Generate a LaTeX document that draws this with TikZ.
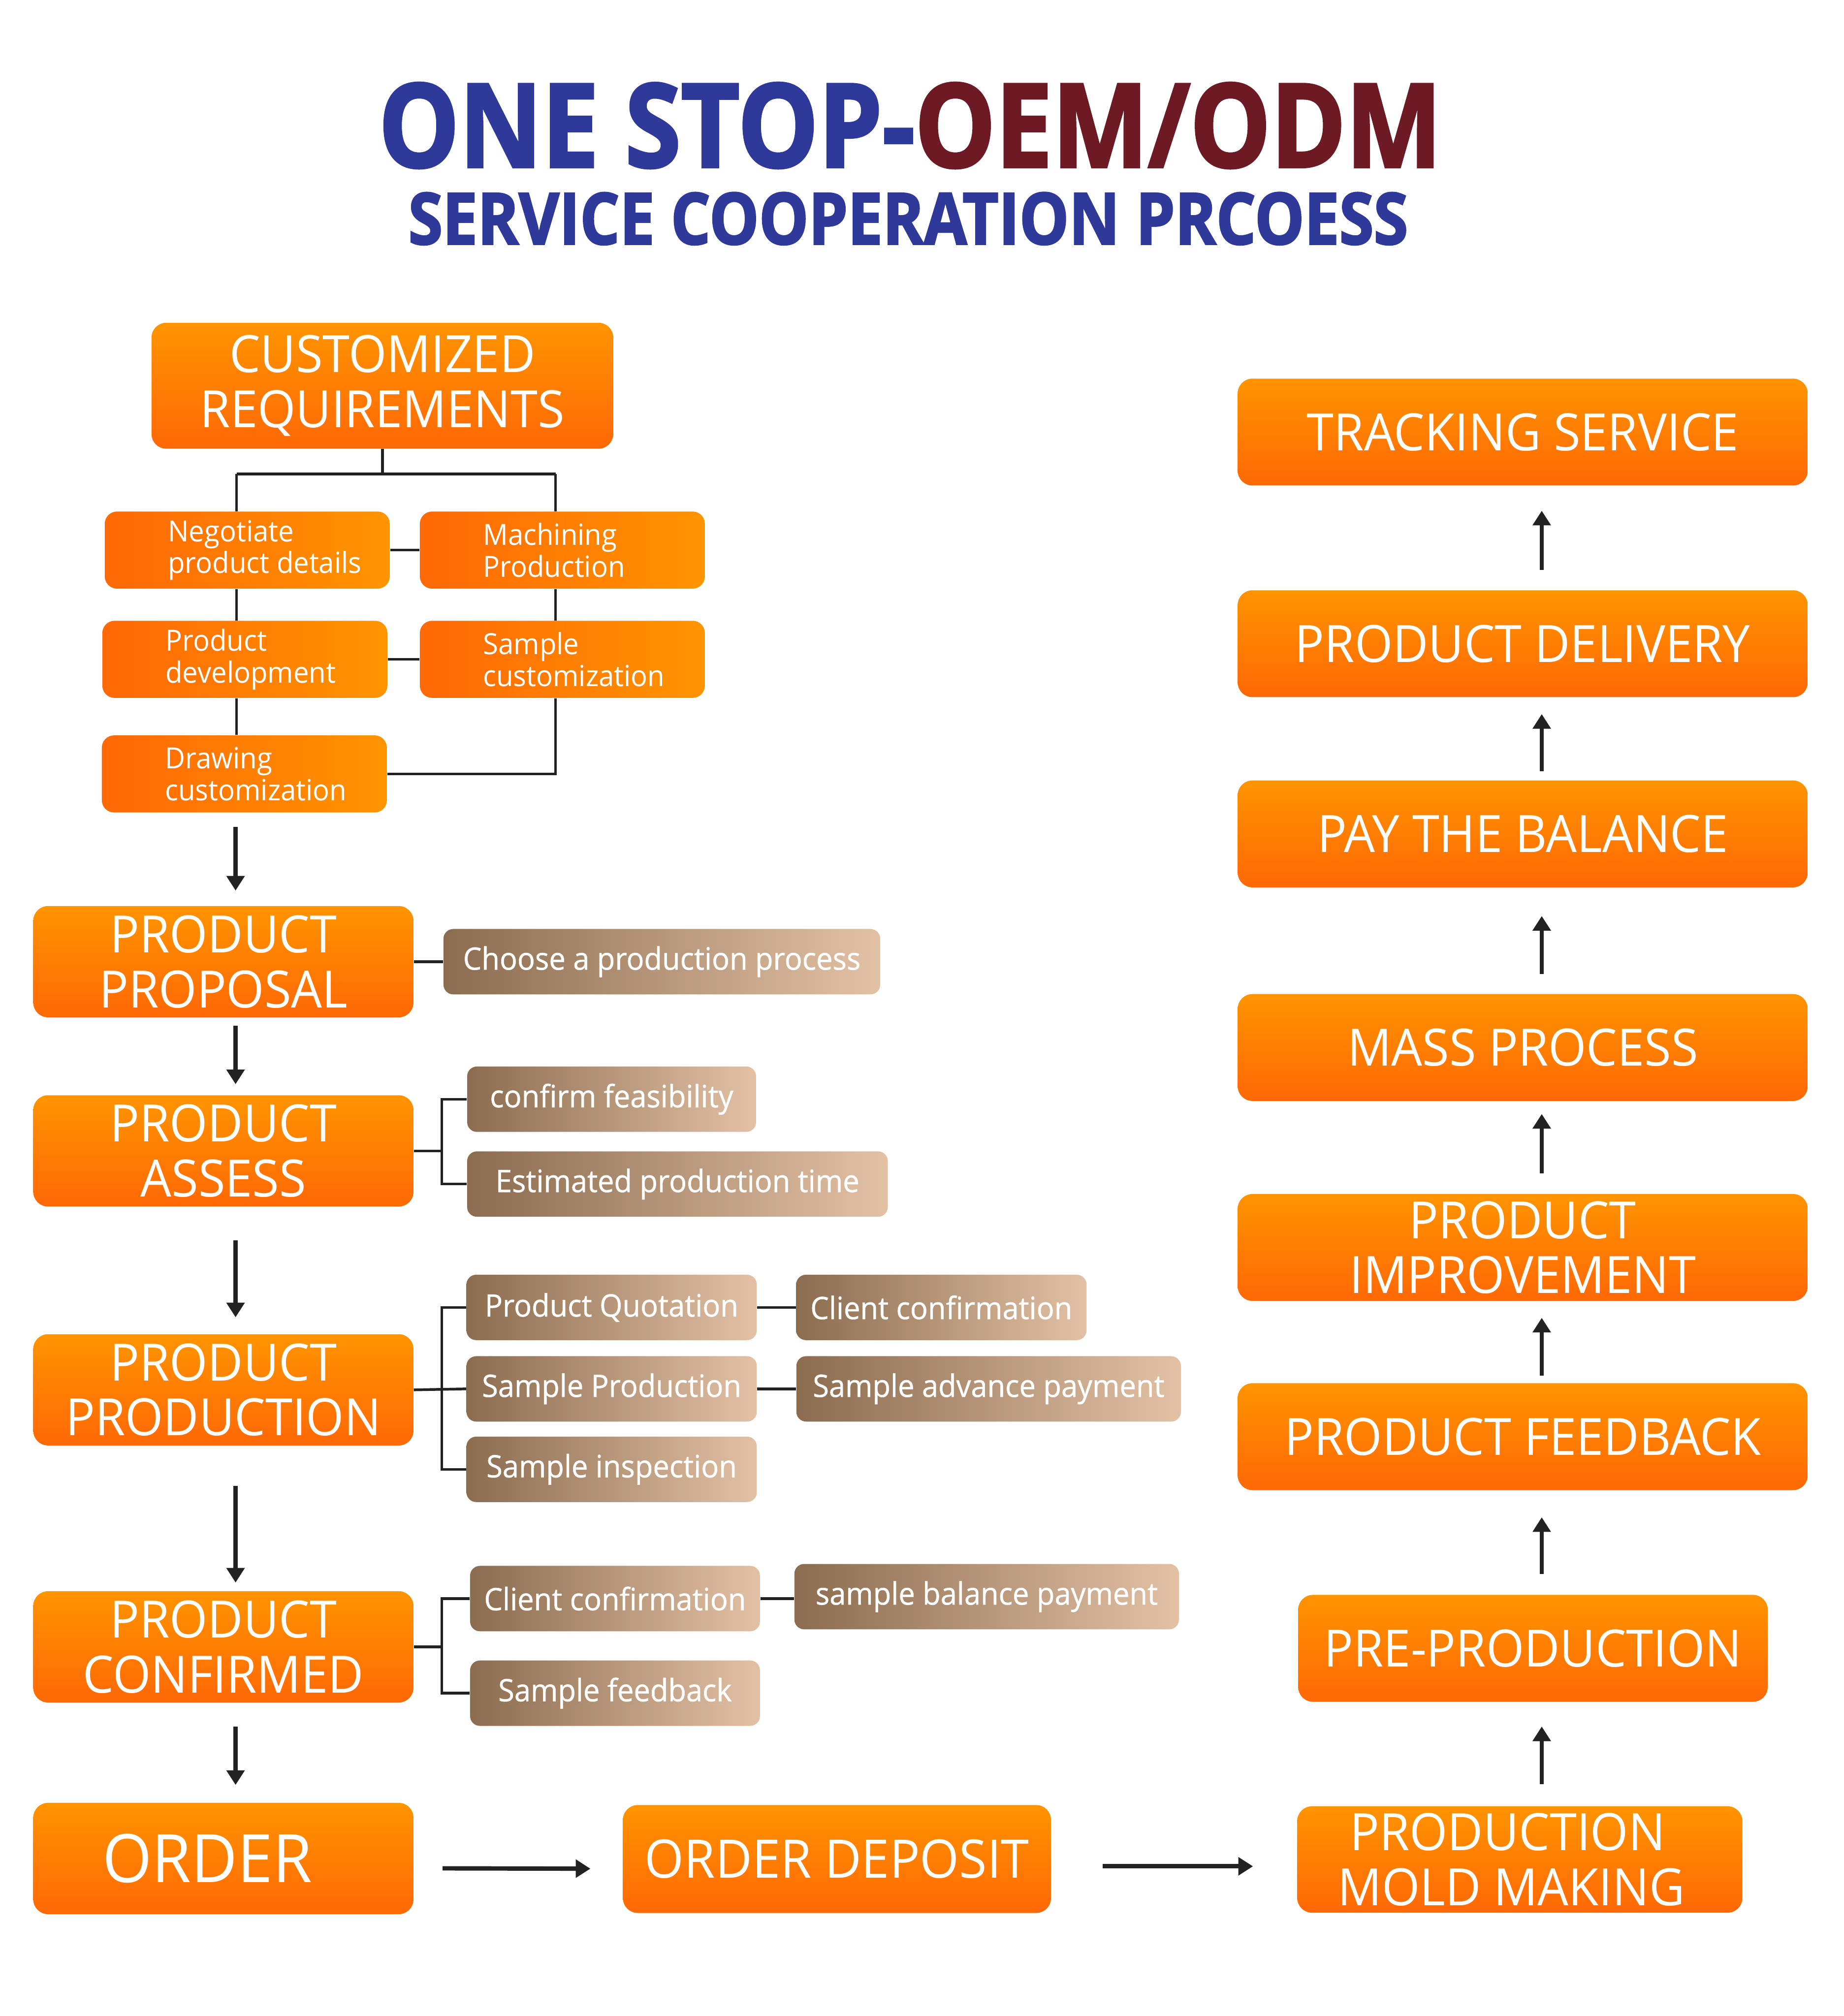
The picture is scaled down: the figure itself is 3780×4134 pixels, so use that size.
\documentclass[tikz,border=0pt]{standalone}
\usepackage{fontspec}
\setmainfont{Open Sans}[FakeStretch=0.95]
\newfontfamily\titlefont{Open Sans}[FakeStretch=0.87, BoldFeatures={FakeBold=2}]
\newfontfamily\notefont{Open Sans}[FakeStretch=0.95, FakeBold=0.8]
\usetikzlibrary{arrows.meta, positioning, calc}
\definecolor{cBlue}{RGB}{47,57,153}
\definecolor{cWine}{RGB}{110,26,37}
\definecolor{cOrTop}{RGB}{255,148,0}
\definecolor{cOrBot}{RGB}{255,104,6}
\definecolor{cBrL}{RGB}{140,108,78}
\definecolor{cBrR}{RGB}{226,193,165}
\definecolor{cLine}{RGB}{34,34,34}
\newcommand\bigtxt{\fontsize{30pt}{32pt}\selectfont}
\newcommand\smalltxt{\fontsize{17pt}{18.5pt}\selectfont}
\newcommand\subtxt{\notefont\fontsize{18pt}{20pt}\selectfont}
\tikzset{
	stage/.style ={rectangle, rounded corners=0.3cm, top color=cOrTop, bottom color=cOrBot, text=white, align=center, inner sep=0pt, font=\bigtxt},
	leftstage/.style={stage, minimum width=7.79cm, minimum height=2.28cm},
	rightstage/.style={stage, minimum width=11.68cm, minimum height=2.19cm},
	detail/.style={rectangle, rounded corners=0.25cm, left color=cOrBot, right color=cOrTop, inner sep=0pt, minimum width=5.84cm, minimum height=1.58cm},
	dtext/.style ={label={[anchor=west, xshift=1.18cm, align=left, text=white, font=\smalltxt]west:#1}},
	note/.style  ={rectangle, rounded corners=0.2cm, left color=cBrL, right color=cBrR, text=white, inner sep=0pt, minimum height=1.34cm, font=\subtxt},
	link/.style  ={draw=cLine, line width=0.055cm},
	flow/.style  ={-{Triangle[length=0.3cm, width=0.36cm]}, draw=cLine, line width=0.09cm},
}
\begin{document}
\begin{tikzpicture}[x=0.01cm, y=-0.01cm]
	\fill[white] (0,0) rectangle (3780,4134);
	\useasboundingbox (0,0) rectangle (3780,4134);

	% title
	\node[anchor=base, font=\titlefont\bfseries\fontsize{68pt}{70pt}\selectfont] (title) at (1866,343) {\textcolor{cBlue}{ONE STOP-}\textcolor{cWine}{OEM/ODM}};
	\node[anchor=base, text=cBlue, font=\titlefont\bfseries\fontsize{41.8pt}{44pt}\selectfont] (subtitle) at (1862,501) {SERVICE COOPERATION PRCOESS};

	% customized requirements cluster
	\node[stage, minimum width=9.46cm, minimum height=2.58cm] (req) at (784,791) {CUSTOMIZED\\REQUIREMENTS};
	\node[detail, dtext={Negotiate\\product details}] (neg) at (507,1128) {};
	\node[detail, dtext={Machining\\Production}] (mach) at (1153,1128) {};
	\node[detail, dtext={Product\\development}] (dev) at (502,1352) {};
	\node[detail, dtext={Sample\\customization}] (samp) at (1153,1352) {};
	\node[detail, dtext={Drawing\\customization}] (drw) at (501,1587) {};
	\coordinate (tl) at (485,972);
	\coordinate (tr) at (1139,972);
	\draw[link] (req.south) -- (req.south |- tl) (tl) -- (tr);
	\draw[link] (tl) -- (neg.north -| tl);
	\draw[link] (neg.south -| tl) -- (dev.north -| tl);
	\draw[link] (dev.south -| tl) -- (drw.north -| tl);
	\draw[link] (tr) -- (mach.north -| tr);
	\draw[link] (mach.south -| tr) -- (samp.north -| tr);
	\draw[link] (samp.south -| tr) |- (drw.east);
	\draw[link] (neg.east) -- (mach.west);
	\draw[link] (dev.east) -- (samp.west);

	% left column
	\node[leftstage] (prop) at (458,1972) {PRODUCT\\PROPOSAL};
	\node[leftstage] (assess) at (458,2360) {PRODUCT\\ASSESS};
	\node[leftstage] (prodn) at (458,2850) {PRODUCT\\PRODUCTION};
	\node[leftstage] (conf) at (458,3377) {PRODUCT\\CONFIRMED};
	\node[leftstage, font=\fontsize{39pt}{41pt}\selectfont] (order) at (458,3811) {ORDER\hspace*{0.66cm}};
	\node[stage, minimum width=8.77cm, minimum height=2.21cm, font=\fontsize{31pt}{33pt}\selectfont] (deposit) at (1716,3812) {ORDER DEPOSIT};

	% notes
	\node[note, minimum width=8.95cm] (choose) at (1357,1972) {Choose a production process};
	\node[note, minimum width=5.92cm] (feas) at (1254,2254) {confirm feasibility};
	\node[note, minimum width=8.62cm] (esttime) at (1389,2428) {Estimated production time};
	\node[note, minimum width=5.95cm] (quot) at (1254,2681) {Product Quotation};
	\node[note, minimum width=5.95cm] (clconfa) at (1930,2681) {Client confirmation};
	\node[note, minimum width=5.95cm] (sprod) at (1254,2848) {Sample Production};
	\node[note, minimum width=7.88cm] (advpay) at (2027,2848) {Sample advance payment};
	\node[note, minimum width=5.95cm] (sinsp) at (1254,3013) {Sample inspection};
	\node[note, minimum width=5.94cm] (clconfb) at (1261,3278) {Client confirmation};
	\node[note, minimum width=7.88cm] (balpay) at (2023,3274) {sample balance payment};
	\node[note, minimum width=5.94cm] (sfeed) at (1261,3472) {Sample feedback};
	\coordinate (bx) at (906,0);
	\draw[link] (prop.east) -- (choose.west);
	\draw[link] (assess.east) -- (assess.east -| bx);
	\draw[link] (feas.west) -| (bx |- esttime.west) -- (esttime.west);
	\draw[link] (quot.west) -| (bx |- sinsp.west) -- (sinsp.west);
	\draw[link] (prodn.east) -- (sprod.west);
	\draw[link] (quot.east) -- (clconfa.west);
	\draw[link] (sprod.east) -- (advpay.west);
	\draw[link] (clconfb.west) -| (bx |- sfeed.west) -- (sfeed.west);
	\draw[link] (conf.east) -- (conf.east -| bx);
	\draw[link] (clconfb.east) -- (clconfb.east -| balpay.west);

	% right column
	\node[stage, minimum width=9.12cm, minimum height=2.18cm] (mold) at (3116,3813) {PRODUCTION\hspace*{0.5cm}\\MOLD MAKING\hspace*{0.35cm}};
	\node[stage, minimum width=9.62cm, minimum height=2.19cm] (preprod) at (3143,3380) {PRE-PRODUCTION};
	\node[rightstage] (feedback) at (3122,2946) {PRODUCT FEEDBACK};
	\node[rightstage] (improve) at (3122,2558) {PRODUCT\\IMPROVEMENT};
	\node[rightstage] (mass) at (3122,2148) {MASS PROCESS};
	\node[rightstage] (pay) at (3122,1710) {PAY THE BALANCE};
	\node[rightstage] (deliv) at (3122,1320) {PRODUCT DELIVERY};
	\node[rightstage] (track) at (3122,886) {TRACKING SERVICE};

	% flow arrows
	\coordinate (lx) at (483,0);
	\coordinate (rx) at (3161,0);
	\draw[flow, shorten <=0.29cm, shorten >=0.31cm] (drw.south -| lx) -- (prop.north -| lx);
	\draw[flow, shorten <=0.17cm, shorten >=0.22cm] (prop.south -| lx) -- (assess.north -| lx);
	\draw[flow, shorten <=0.69cm, shorten >=0.34cm] (assess.south -| lx) -- (prodn.north -| lx);
	\draw[flow, shorten <=0.82cm, shorten >=0.17cm] (prodn.south -| lx) -- (conf.north -| lx);
	\draw[flow, shorten <=0.49cm, shorten >=0.36cm] (conf.south -| lx) -- (order.north -| lx);
	\draw[flow, shorten <=0.59cm, shorten >=0.66cm] ([yshift=-0.2cm]order.east) -- ([yshift=-0.2cm]deposit.west);
	\draw[flow, shorten <=1.05cm, shorten >=0.90cm] ([yshift=-0.15cm]deposit.east) -- ([yshift=-0.15cm]deposit.east -| mold.west);
	\draw[flow, shorten <=0.45cm, shorten >=0.50cm] (mold.north -| rx) -- (preprod.south -| rx);
	\draw[flow, shorten <=0.42cm, shorten >=0.55cm] (preprod.north -| rx) -- (feedback.south -| rx);
	\draw[flow, shorten <=0.15cm, shorten >=0.34cm] (feedback.north -| rx) -- (improve.south -| rx);
	\draw[flow, shorten <=0.42cm, shorten >=0.26cm] (improve.north -| rx) -- (mass.south -| rx);
	\draw[flow, shorten <=0.40cm, shorten >=0.58cm] (mass.north -| rx) -- (pay.south -| rx);
	\draw[flow, shorten <=0.18cm, shorten >=0.34cm] (pay.north -| rx) -- (deliv.south -| rx);
	\draw[flow, shorten <=0.41cm, shorten >=0.51cm] (deliv.north -| rx) -- (track.south -| rx);
\end{tikzpicture}
\end{document}
